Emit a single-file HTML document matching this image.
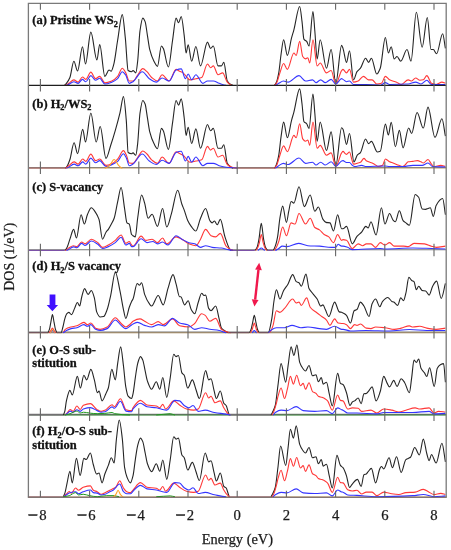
<!DOCTYPE html>
<html><head><meta charset="utf-8"><title>DOS</title>
<style>html,body{margin:0;padding:0;background:#fff;width:451px;height:550px;overflow:hidden}svg{display:block}</style>
</head><body>
<svg width="451" height="550" viewBox="0 0 451 550">
<rect width="451" height="550" fill="#fff"/>
<line x1="28.4" y1="167.50" x2="446.2" y2="167.50" stroke="#777" stroke-width="1.1"/>
<line x1="28.4" y1="249.80" x2="446.2" y2="249.80" stroke="#777" stroke-width="1.1"/>
<line x1="28.4" y1="332.10" x2="446.2" y2="332.10" stroke="#777" stroke-width="1.1"/>
<line x1="28.4" y1="414.40" x2="446.2" y2="414.40" stroke="#777" stroke-width="1.1"/>
<path d="M64.09,85.30 C64.86,85.30 65.64,84.18 66.42,83.33 C67.58,82.05 68.75,80.24 69.91,77.51 C71.23,74.40 72.55,61.21 73.87,61.21 C75.11,61.21 76.35,70.99 77.59,70.99 C79.22,70.99 80.85,46.77 82.48,46.77 C83.49,46.77 84.50,64.00 85.51,64.00 C87.29,64.00 89.08,32.10 90.86,32.10 C92.88,32.10 94.90,60.04 96.92,60.04 C97.85,60.04 98.78,44.44 99.71,44.44 C101.42,44.44 103.13,76.34 104.83,76.34 C106.23,76.34 107.63,70.05 109.02,70.05 C109.72,70.05 110.42,71.22 111.12,71.22 C111.97,71.22 112.83,67.69 113.68,64.70 C115.00,60.08 116.32,47.94 117.64,40.25 C119.19,31.21 120.74,14.64 122.30,14.64 C123.30,14.64 124.31,28.54 125.32,37.92 C126.25,46.58 127.19,69.89 128.12,70.52 C129.28,71.30 130.44,71.68 131.61,71.68 C132.07,71.68 132.54,70.52 133.00,70.52 C133.93,70.52 134.86,72.85 135.79,72.85 C136.41,72.85 137.04,66.38 137.66,61.21 C138.43,54.74 139.21,36.28 139.98,30.94 C140.92,24.53 141.85,18.13 142.78,18.13 C143.55,18.13 144.33,19.76 145.11,21.63 C145.88,23.49 146.66,30.94 147.44,35.60 C148.21,40.25 148.99,46.51 149.76,49.57 C151.16,55.06 152.56,58.55 153.95,61.21 C155.12,63.42 156.28,66.33 157.45,66.33 C158.77,66.33 160.09,46.07 161.41,46.07 C162.03,46.07 162.65,47.33 163.27,48.40 C164.98,51.35 166.68,67.03 168.39,67.03 C169.79,67.03 171.18,49.14 172.58,40.25 C173.75,32.85 174.91,18.13 176.07,18.13 C176.93,18.13 177.78,22.79 178.63,22.79 C179.49,22.79 180.34,16.50 181.20,16.50 C182.20,16.50 183.21,27.87 184.22,35.60 C184.84,40.35 185.46,53.06 186.08,53.06 C186.78,53.06 187.48,44.91 188.18,44.91 C189.34,44.91 190.51,61.21 191.67,61.21 C193.07,61.21 194.47,46.54 195.86,46.54 C197.42,46.54 198.97,65.86 200.52,65.86 C202.85,65.86 205.18,42.12 207.51,42.12 C208.51,42.12 209.52,48.40 210.53,48.40 C211.46,48.40 212.39,46.07 213.33,46.07 C214.88,46.07 216.43,65.86 217.98,65.86 C219.15,65.86 220.31,65.86 221.47,65.86 C222.25,65.86 223.03,62.37 223.80,62.37 C224.97,62.37 226.13,79.04 227.30,81.00 C228.46,82.96 229.62,83.91 230.79,84.49 C231.56,84.88 232.34,85.30 233.12,85.30M274.09,85.30 C274.86,85.30 275.64,83.73 276.42,82.16 C277.19,80.60 277.97,76.99 278.75,72.85 C279.52,68.71 280.30,59.37 281.07,54.22 C281.93,48.56 282.78,39.79 283.63,39.79 C284.88,39.79 286.12,55.39 287.36,55.39 C288.76,55.39 290.15,43.20 291.55,37.92 C292.33,35.00 293.10,32.65 293.88,29.78 C295.82,22.60 297.76,6.49 299.70,6.49 C300.48,6.49 301.25,15.63 302.03,21.63 C302.65,26.43 303.27,38.08 303.89,39.09 C304.82,40.60 305.75,40.31 306.68,41.42 C307.46,42.34 308.24,46.07 309.01,46.07 C310.33,46.07 311.65,11.61 312.97,11.61 C313.59,11.61 314.21,24.05 314.83,30.94 C315.61,39.55 316.39,58.88 317.16,58.88 C318.17,58.88 319.18,39.79 320.19,39.79 C322.28,39.79 324.38,68.19 326.47,68.19 C328.03,68.19 329.58,49.57 331.13,49.57 C332.68,49.57 334.24,83.33 335.79,83.33 C337.73,83.33 339.67,45.37 341.61,45.37 C342.07,45.37 342.54,47.15 343.00,48.40 C344.16,51.55 345.33,62.37 346.49,62.37 C347.50,62.37 348.51,50.73 349.52,50.73 C350.84,50.73 352.16,79.83 353.48,79.83 C354.64,79.83 355.81,73.31 356.97,71.68 C358.13,70.05 359.30,69.70 360.46,68.19 C362.17,65.98 363.88,58.18 365.58,58.18 C366.59,58.18 367.60,62.37 368.61,62.37 C369.54,62.37 370.47,58.18 371.41,58.18 C373.19,58.18 374.98,74.01 376.76,74.01 C377.92,74.01 379.09,71.12 380.25,68.19 C381.96,63.89 383.67,37.46 385.37,37.46 C386.38,37.46 387.39,53.06 388.40,53.06 C389.33,53.06 390.26,46.77 391.20,46.77 C392.20,46.77 393.21,58.88 394.22,58.88 C395.15,58.88 396.08,56.55 397.02,56.55 C398.26,56.55 399.50,61.21 400.74,61.21 C402.84,61.21 404.93,49.57 407.03,49.57 C408.35,49.57 409.67,61.21 410.99,61.21 C412.77,61.21 414.56,12.31 416.34,12.31 C418.28,12.31 420.22,47.24 422.16,47.24 C423.87,47.24 425.58,17.44 427.28,17.44 C428.53,17.44 429.77,49.57 431.01,49.57 C431.79,49.57 432.56,49.57 433.34,49.57 C434.42,49.57 435.51,53.76 436.60,53.76 C438.62,53.76 440.63,33.73 442.65,33.73 C443.57,33.73 444.48,43.51 445.40,48.40" fill="none" stroke="#252525" stroke-width="1.1" stroke-linejoin="round"/>
<path d="M65.25,85.30 C66.42,85.30 67.58,84.04 68.75,83.33 C70.45,82.28 72.16,79.83 73.87,79.83 C75.26,79.83 76.66,82.16 78.06,82.16 C79.53,82.16 81.01,77.04 82.48,77.04 C83.57,77.04 84.66,79.37 85.74,79.37 C87.45,79.37 89.16,72.15 90.86,72.15 C92.42,72.15 93.97,78.67 95.52,78.67 C96.92,78.67 98.31,76.34 99.71,76.34 C101.42,76.34 103.13,82.86 104.83,82.86 C107.16,82.86 109.49,81.94 111.82,81.00 C113.76,80.21 115.70,78.50 117.64,76.34 C119.19,74.61 120.74,68.19 122.30,68.19 C123.46,68.19 124.62,70.87 125.79,72.85 C126.95,74.82 128.12,81.00 129.28,81.00 C130.52,81.00 131.76,81.00 133.00,81.00 C134.55,81.00 136.10,77.13 137.66,75.18 C139.36,73.02 141.07,68.66 142.78,68.66 C144.18,68.66 145.57,70.41 146.97,71.68 C148.52,73.10 150.07,76.23 151.63,77.51 C153.57,79.10 155.51,81.00 157.45,81.00 C159.00,81.00 160.55,74.71 162.10,74.71 C164.43,74.71 166.76,81.00 169.09,81.00 C171.42,81.00 173.75,69.36 176.07,69.36 C177.24,69.36 178.40,70.64 179.57,71.22 C180.73,71.80 181.89,72.14 183.06,72.85 C185.39,74.27 187.71,79.83 190.04,79.83 C191.98,79.83 193.92,79.06 195.86,78.67 C197.80,78.28 199.74,78.22 201.68,77.51 C203.62,76.79 205.56,64.00 207.51,64.00 C208.51,64.00 209.52,67.73 210.53,67.73 C211.46,67.73 212.39,65.86 213.33,65.86 C214.88,65.86 216.43,74.71 217.98,74.71 C219.53,74.71 221.09,72.85 222.64,72.85 C224.19,72.85 225.74,80.60 227.30,82.16 C228.85,83.73 230.40,85.30 231.95,85.30M274.09,85.30 C274.86,85.30 275.64,84.32 276.42,83.33 C277.58,81.84 278.75,76.03 279.91,72.85 C281.15,69.46 282.39,63.54 283.63,63.54 C284.88,63.54 286.12,69.36 287.36,69.36 C289.53,69.36 291.71,53.06 293.88,53.06 C294.66,53.06 295.43,55.39 296.21,55.39 C297.37,55.39 298.54,41.42 299.70,41.42 C300.71,41.42 301.72,55.12 302.73,56.55 C303.66,57.87 304.59,58.88 305.52,58.88 C306.30,58.88 307.07,57.71 307.85,57.71 C308.47,57.71 309.09,63.07 309.71,63.07 C310.80,63.07 311.88,39.79 312.97,39.79 C314.37,39.79 315.76,65.86 317.16,65.86 C318.17,65.86 319.18,63.07 320.19,63.07 C322.28,63.07 324.38,72.85 326.47,72.85 C328.03,72.85 329.58,70.52 331.13,70.52 C332.68,70.52 334.24,84.02 335.79,84.02 C337.73,84.02 339.67,72.70 341.61,70.52 C342.07,70.00 342.54,69.36 343.00,69.36 C344.16,69.36 345.33,72.85 346.49,72.85 C347.50,72.85 348.51,69.36 349.52,69.36 C350.84,69.36 352.16,82.16 353.48,82.16 C355.03,82.16 356.58,81.59 358.13,81.00 C359.92,80.31 361.70,76.34 363.49,76.34 C365.20,76.34 366.90,79.83 368.61,79.83 C369.78,79.83 370.94,79.83 372.10,79.83 C373.66,79.83 375.21,84.02 376.76,84.02 C378.31,84.02 379.86,83.77 381.42,83.33 C382.74,82.95 384.06,76.34 385.37,76.34 C386.77,76.34 388.17,79.14 389.57,79.83 C391.89,80.98 394.22,81.22 396.55,82.16 C398.10,82.79 399.66,84.49 401.21,84.49 C403.54,84.49 405.86,79.83 408.19,79.83 C409.36,79.83 410.52,81.00 411.68,81.00 C413.00,81.00 414.32,77.97 415.64,77.97 C417.04,77.97 418.44,80.30 419.83,80.30 C421.00,80.30 422.16,80.11 423.33,79.83 C424.49,79.55 425.65,75.64 426.82,75.64 C428.37,75.64 429.92,82.65 431.47,83.33 C433.03,84.00 434.58,84.49 436.13,84.49 C438.07,84.49 440.01,82.16 441.95,82.16 C443.10,82.16 444.25,82.94 445.40,83.33" fill="none" stroke="#ff3838" stroke-width="1.1" stroke-linejoin="round"/>
<path d="M66.42,85.30 C68.90,85.30 71.38,81.70 73.87,81.70 C75.26,81.70 76.66,83.33 78.06,83.33 C79.53,83.33 81.01,79.37 82.48,79.37 C83.57,79.37 84.66,81.70 85.74,81.70 C87.45,81.70 89.16,75.64 90.86,75.64 C92.42,75.64 93.97,80.30 95.52,80.30 C96.92,80.30 98.31,78.20 99.71,78.20 C101.42,78.20 103.13,84.02 104.83,84.02 C107.16,84.02 109.49,83.03 111.82,82.16 C113.76,81.44 115.70,80.36 117.64,78.67 C119.19,77.32 120.74,71.68 122.30,71.68 C123.46,71.68 124.62,73.55 125.79,75.18 C126.95,76.81 128.12,83.33 129.28,83.33 C130.52,83.33 131.76,82.42 133.00,81.70 C136.10,79.87 139.21,71.68 142.31,71.68 C144.64,71.68 146.97,77.12 149.30,78.67 C151.63,80.22 153.95,82.16 156.28,82.16 C158.22,82.16 160.16,77.97 162.10,77.97 C164.43,77.97 166.76,81.00 169.09,81.00 C171.42,81.00 173.75,70.94 176.07,70.05 C177.78,69.40 179.49,68.89 181.20,68.89 C182.59,68.89 183.99,78.67 185.39,78.67 C186.32,78.67 187.25,74.01 188.18,74.01 C189.34,74.01 190.51,79.83 191.67,79.83 C193.07,79.83 194.47,74.71 195.86,74.71 C198.19,74.71 200.52,83.33 202.85,83.33 C204.40,83.33 205.95,81.00 207.51,81.00 C209.45,81.00 211.39,81.00 213.33,81.00 C215.27,81.00 217.21,82.68 219.15,83.33 C221.47,84.10 223.80,85.30 226.13,85.30M275.25,85.30 C276.42,85.30 277.58,83.95 278.75,83.33 C280.30,82.50 281.85,81.00 283.40,81.00 C284.95,81.00 286.51,82.16 288.06,82.16 C291.71,82.16 295.35,75.64 299.00,75.64 C301.17,75.64 303.35,81.00 305.52,81.00 C307.85,81.00 310.18,79.83 312.51,79.83 C313.67,79.83 314.83,82.63 316.00,82.63 C317.55,82.63 319.10,79.83 320.65,79.83 C322.21,79.83 323.76,82.63 325.31,82.63 C327.25,82.63 329.19,79.37 331.13,79.37 C332.68,79.37 334.24,84.02 335.79,84.02 C337.73,84.02 339.67,78.67 341.61,78.67 C342.07,78.67 342.54,79.11 343.00,79.37 C344.16,80.02 345.33,81.70 346.49,81.70 C347.50,81.70 348.51,81.00 349.52,81.00 C350.84,81.00 352.16,84.49 353.48,84.49 C357.75,84.49 362.01,84.49 366.28,84.49 C370.94,84.49 375.60,85.30 380.25,85.30 C381.96,85.30 383.67,82.63 385.37,82.63 C386.77,82.63 388.17,84.49 389.57,84.49 C395.77,84.49 401.98,84.34 408.19,84.02 C410.68,83.90 413.16,82.16 415.64,82.16 C417.43,82.16 419.21,84.02 421.00,84.02 C422.94,84.02 424.88,80.30 426.82,80.30 C428.37,80.30 429.92,84.49 431.47,84.49 C436.12,84.49 440.76,84.49 445.40,84.49" fill="none" stroke="#3535ff" stroke-width="1.1" stroke-linejoin="round"/>
<line x1="28.4" y1="168.20" x2="446.2" y2="168.20" stroke="#c8aa80" stroke-width="0.9"/>
<path d="M65.25,168.10 C66.03,168.10 66.80,166.58 67.58,165.33 C68.36,164.07 69.13,161.84 69.91,159.51 C71.31,155.30 72.70,142.74 74.10,142.74 C75.26,142.74 76.43,153.68 77.59,153.68 C79.30,153.68 81.01,129.24 82.71,129.24 C83.65,129.24 84.58,142.04 85.51,142.04 C87.29,142.04 89.08,112.94 90.86,112.94 C92.65,112.94 94.43,142.04 96.22,142.04 C97.54,142.04 98.86,126.44 100.18,126.44 C102.12,126.44 104.06,158.34 106.00,158.34 C107.55,158.34 109.10,150.16 110.65,145.54 C112.21,140.91 113.76,135.81 115.31,130.40 C116.86,125.00 118.42,119.43 119.97,112.94 C121.13,108.07 122.30,96.64 123.46,96.64 C124.39,96.64 125.32,109.15 126.25,119.92 C126.87,127.10 127.50,152.07 128.12,152.52 C129.28,153.36 130.44,153.68 131.61,153.68 C132.07,153.68 132.54,152.87 133.00,152.87 C133.93,152.87 134.86,155.20 135.79,155.20 C136.41,155.20 137.04,148.73 137.66,143.56 C138.43,137.09 139.21,118.63 139.98,113.29 C140.92,106.88 141.85,100.48 142.78,100.48 C143.55,100.48 144.33,102.11 145.11,103.98 C145.88,105.84 146.66,113.29 147.44,117.95 C148.21,122.60 148.99,128.86 149.76,131.92 C151.16,137.41 152.56,140.90 153.95,143.56 C155.12,145.77 156.28,148.68 157.45,148.68 C158.77,148.68 160.09,128.42 161.41,128.42 C162.03,128.42 162.65,129.68 163.27,130.75 C164.98,133.70 166.68,149.38 168.39,149.38 C169.79,149.38 171.18,131.49 172.58,122.60 C173.75,115.20 174.91,100.48 176.07,100.48 C176.93,100.48 177.78,105.14 178.63,105.14 C179.49,105.14 180.34,98.85 181.20,98.85 C182.20,98.85 183.21,110.22 184.22,117.95 C184.84,122.70 185.46,135.41 186.08,135.41 C186.78,135.41 187.48,127.26 188.18,127.26 C189.34,127.26 190.51,143.56 191.67,143.56 C193.07,143.56 194.47,128.89 195.86,128.89 C197.42,128.89 198.97,148.21 200.52,148.21 C202.85,148.21 205.18,124.46 207.51,124.46 C208.51,124.46 209.52,130.75 210.53,130.75 C211.46,130.75 212.39,128.42 213.33,128.42 C214.88,128.42 216.43,148.21 217.98,148.21 C219.15,148.21 220.31,148.21 221.47,148.21 C222.25,148.21 223.03,144.72 223.80,144.72 C224.97,144.72 226.13,161.39 227.30,163.35 C228.46,165.31 229.62,166.04 230.79,166.84 C231.56,167.37 232.34,168.10 233.12,168.10M274.09,168.10 C274.86,168.10 275.64,166.24 276.42,164.51 C277.19,162.78 277.97,159.34 278.75,155.20 C279.52,151.06 280.30,141.72 281.07,136.57 C281.93,130.91 282.78,122.14 283.63,122.14 C284.88,122.14 286.12,137.74 287.36,137.74 C288.76,137.74 290.15,125.54 291.55,120.27 C292.33,117.35 293.10,114.99 293.88,112.12 C295.82,104.95 297.76,88.84 299.70,88.84 C300.48,88.84 301.25,97.98 302.03,103.98 C302.65,108.77 303.27,120.43 303.89,121.44 C304.82,122.95 305.75,122.66 306.68,123.77 C307.46,124.69 308.24,128.42 309.01,128.42 C310.33,128.42 311.65,93.96 312.97,93.96 C313.59,93.96 314.21,106.40 314.83,113.29 C315.61,121.90 316.39,141.23 317.16,141.23 C318.17,141.23 319.18,122.14 320.19,122.14 C322.28,122.14 324.38,150.54 326.47,150.54 C328.03,150.54 329.58,131.92 331.13,131.92 C332.68,131.92 334.24,165.68 335.79,165.68 C337.73,165.68 339.67,127.72 341.61,127.72 C342.07,127.72 342.54,128.49 343.00,129.24 C344.16,131.10 345.33,144.37 346.49,144.37 C347.50,144.37 348.51,133.43 349.52,133.43 C350.99,133.43 352.47,161.83 353.94,161.83 C355.11,161.83 356.27,156.13 357.44,154.85 C358.44,153.74 359.45,153.67 360.46,152.52 C362.17,150.58 363.88,139.02 365.58,139.02 C366.59,139.02 367.60,143.67 368.61,143.67 C369.54,143.67 370.47,141.34 371.41,141.34 C373.42,141.34 375.44,152.05 377.46,152.05 C378.39,152.05 379.32,151.76 380.25,151.36 C381.96,150.61 383.67,124.12 385.37,124.12 C386.38,124.12 387.39,135.06 388.40,135.06 C389.33,135.06 390.26,122.25 391.20,122.25 C392.59,122.25 393.99,146.70 395.39,146.70 C396.71,146.70 398.03,130.40 399.34,130.40 C400.59,130.40 401.83,147.86 403.07,147.86 C404.93,147.86 406.80,128.07 408.66,128.07 C409.67,128.07 410.68,133.43 411.68,133.43 C413.47,133.43 415.25,112.47 417.04,112.47 C419.14,112.47 421.23,128.07 423.33,128.07 C424.88,128.07 426.43,107.12 427.98,107.12 C430.31,107.12 432.64,137.39 434.97,137.39 C437.30,137.39 439.62,118.76 441.95,118.76 C443.10,118.76 444.25,130.40 445.40,136.22" fill="none" stroke="#252525" stroke-width="1.1" stroke-linejoin="round"/>
<path d="M65.25,168.10 C66.42,168.10 67.58,166.60 68.75,165.79 C70.53,164.55 72.32,161.83 74.10,161.83 C75.42,161.83 76.74,164.16 78.06,164.16 C79.61,164.16 81.16,159.04 82.71,159.04 C83.72,159.04 84.73,161.37 85.74,161.37 C87.45,161.37 89.16,154.15 90.86,154.15 C92.42,154.15 93.97,160.67 95.52,160.67 C96.92,160.67 98.31,159.04 99.71,159.04 C101.81,159.04 103.90,165.33 106.00,165.33 C107.94,165.33 109.88,164.50 111.82,163.70 C113.76,162.89 115.70,161.04 117.64,159.04 C119.58,157.04 121.52,150.66 123.46,150.66 C124.39,150.66 125.32,153.06 126.25,154.85 C127.26,156.79 128.27,162.81 129.28,163.00 C130.52,163.23 131.76,163.35 133.00,163.35 C134.55,163.35 136.10,159.48 137.66,157.53 C139.36,155.37 141.07,151.01 142.78,151.01 C144.18,151.01 145.57,152.76 146.97,154.03 C148.52,155.45 150.07,158.58 151.63,159.85 C153.57,161.45 155.51,163.35 157.45,163.35 C159.00,163.35 160.55,157.06 162.10,157.06 C164.43,157.06 166.76,163.35 169.09,163.35 C171.42,163.35 173.75,151.71 176.07,151.71 C177.24,151.71 178.40,152.99 179.57,153.57 C180.73,154.15 181.89,154.49 183.06,155.20 C185.39,156.62 187.71,162.18 190.04,162.18 C191.98,162.18 193.92,161.41 195.86,161.02 C197.80,160.63 199.74,160.57 201.68,159.85 C203.62,159.14 205.56,146.35 207.51,146.35 C208.51,146.35 209.52,150.08 210.53,150.08 C211.46,150.08 212.39,148.21 213.33,148.21 C214.88,148.21 216.43,157.06 217.98,157.06 C219.53,157.06 221.09,155.20 222.64,155.20 C224.19,155.20 225.74,163.08 227.30,164.51 C228.85,165.94 230.40,166.96 231.95,167.31 C233.97,167.75 235.98,168.10 238.00,168.10M274.09,168.10 C274.86,168.10 275.64,166.84 276.42,165.68 C277.58,163.93 278.75,158.38 279.91,155.20 C281.15,151.81 282.39,145.88 283.63,145.88 C284.88,145.88 286.12,151.71 287.36,151.71 C289.53,151.71 291.71,135.41 293.88,135.41 C294.66,135.41 295.43,137.74 296.21,137.74 C297.37,137.74 298.54,123.77 299.70,123.77 C300.71,123.77 301.72,137.47 302.73,138.90 C303.66,140.22 304.59,141.23 305.52,141.23 C306.30,141.23 307.07,140.06 307.85,140.06 C308.47,140.06 309.09,145.42 309.71,145.42 C310.80,145.42 311.88,122.14 312.97,122.14 C314.37,122.14 315.76,148.21 317.16,148.21 C318.17,148.21 319.18,145.42 320.19,145.42 C322.28,145.42 324.38,155.20 326.47,155.20 C328.03,155.20 329.58,152.87 331.13,152.87 C332.68,152.87 334.24,166.37 335.79,166.37 C337.73,166.37 339.67,155.55 341.61,152.87 C342.07,152.23 342.54,151.36 343.00,151.36 C343.78,151.36 344.55,153.12 345.33,153.68 C345.72,153.97 346.10,154.38 346.49,154.38 C347.50,154.38 348.51,152.05 349.52,152.05 C350.30,152.05 351.07,157.17 351.85,159.51 C352.39,161.14 352.93,164.16 353.48,164.16 C354.25,164.16 355.03,163.88 355.81,163.70 C356.58,163.51 357.36,163.23 358.13,163.00 C358.91,162.76 359.69,162.65 360.46,162.30 C361.63,161.77 362.79,158.34 363.95,158.34 C364.73,158.34 365.51,160.15 366.28,160.67 C367.06,161.19 367.84,161.52 368.61,161.83 C369.78,162.31 370.94,162.53 372.10,163.00 C372.88,163.31 373.66,163.72 374.43,164.16 C375.60,164.82 376.76,166.49 377.92,166.49 C379.48,166.49 381.03,166.07 382.58,165.33 C383.51,164.88 384.44,159.04 385.37,159.04 C386.00,159.04 386.62,159.59 387.24,159.97 C388.01,160.44 388.79,161.46 389.57,161.83 C390.73,162.40 391.89,162.58 393.06,163.00 C395.00,163.70 396.94,164.63 398.88,165.33 C400.04,165.75 401.21,166.49 402.37,166.49 C403.15,166.49 403.92,165.83 404.70,165.33 C405.86,164.57 407.03,162.05 408.19,161.83 C409.74,161.54 411.30,161.55 412.85,161.37 C414.40,161.18 415.95,160.67 417.51,160.67 C418.67,160.67 419.83,161.36 421.00,161.83 C421.77,162.15 422.55,163.00 423.33,163.00 C424.88,163.00 426.43,159.51 427.98,159.51 C429.15,159.51 430.31,162.84 431.47,164.16 C432.25,165.04 433.03,166.49 433.80,166.49 C436.13,166.49 438.46,165.33 440.79,165.33 C442.33,165.33 443.86,166.10 445.40,166.49" fill="none" stroke="#ff3838" stroke-width="1.1" stroke-linejoin="round"/>
<path d="M66.42,168.10 C68.98,168.10 71.54,164.16 74.10,164.16 C75.42,164.16 76.74,165.79 78.06,165.79 C79.61,165.79 81.16,161.83 82.71,161.83 C83.72,161.83 84.73,164.16 85.74,164.16 C87.45,164.16 89.16,158.11 90.86,158.11 C92.42,158.11 93.97,162.76 95.52,162.76 C96.92,162.76 98.31,160.67 99.71,160.67 C101.81,160.67 103.90,166.49 106.00,166.49 C107.94,166.49 109.88,165.42 111.82,164.63 C113.76,163.84 115.70,162.89 117.64,161.37 C119.58,159.84 121.52,153.68 123.46,153.68 C124.39,153.68 125.32,155.92 126.25,157.64 C127.26,159.51 128.27,165.79 129.28,165.79 C130.52,165.79 131.76,164.81 133.00,164.05 C136.10,162.12 139.21,154.03 142.31,154.03 C144.64,154.03 146.97,159.47 149.30,161.02 C151.63,162.57 153.95,164.51 156.28,164.51 C158.22,164.51 160.16,160.32 162.10,160.32 C164.43,160.32 166.76,163.35 169.09,163.35 C171.42,163.35 173.75,153.29 176.07,152.40 C177.78,151.75 179.49,151.24 181.20,151.24 C182.59,151.24 183.99,161.02 185.39,161.02 C186.32,161.02 187.25,156.36 188.18,156.36 C189.34,156.36 190.51,162.18 191.67,162.18 C193.07,162.18 194.47,157.06 195.86,157.06 C198.19,157.06 200.52,165.68 202.85,165.68 C204.40,165.68 205.95,163.35 207.51,163.35 C209.45,163.35 211.39,163.35 213.33,163.35 C215.27,163.35 217.21,165.10 219.15,165.68 C221.47,166.37 223.80,167.05 226.13,167.31 C230.09,167.74 234.04,168.10 238.00,168.10M275.25,168.10 C276.42,168.10 277.58,166.36 278.75,165.68 C280.30,164.77 281.85,163.35 283.40,163.35 C284.95,163.35 286.51,164.51 288.06,164.51 C291.71,164.51 295.35,157.99 299.00,157.99 C301.17,157.99 303.35,163.35 305.52,163.35 C307.85,163.35 310.18,162.18 312.51,162.18 C313.67,162.18 314.83,164.98 316.00,164.98 C317.55,164.98 319.10,162.18 320.65,162.18 C322.21,162.18 323.76,164.98 325.31,164.98 C327.25,164.98 329.19,161.72 331.13,161.72 C332.68,161.72 334.24,166.37 335.79,166.37 C337.73,166.37 339.67,161.70 341.61,161.02 C342.07,160.85 342.54,160.67 343.00,160.67 C344.16,160.67 345.33,162.53 346.49,162.53 C347.50,162.53 348.51,162.53 349.52,162.53 C350.45,162.53 351.38,164.71 352.31,165.33 C353.09,165.84 353.87,166.49 354.64,166.49 C356.97,166.49 359.30,165.33 361.63,165.33 C363.18,165.33 364.73,166.49 366.28,166.49 C372.49,166.49 378.70,166.02 384.91,166.02 C386.46,166.02 388.01,166.49 389.57,166.49 C394.22,166.49 398.88,166.49 403.54,166.49 C406.64,166.49 409.74,165.33 412.85,165.33 C415.95,165.33 419.06,165.33 422.16,165.33 C424.10,165.33 426.04,163.00 427.98,163.00 C429.53,163.00 431.09,166.36 432.64,166.49 C436.89,166.83 441.15,166.80 445.40,166.96" fill="none" stroke="#3535ff" stroke-width="1.1" stroke-linejoin="round"/>
<path d="M104.83,168.10 C106.39,168.10 107.94,166.75 109.49,165.56 C111.04,164.37 112.59,159.51 114.15,159.51 C115.70,159.51 117.25,164.13 118.80,165.56 C119.97,166.63 121.13,168.10 122.30,168.10" fill="none" stroke="#ffa22a" stroke-width="1.1" stroke-linejoin="round"/>
<line x1="28.60" y1="168.10" x2="65.25" y2="168.10" stroke="#a0606a" stroke-width="1.0"/>
<line x1="233.12" y1="168.10" x2="274.09" y2="168.10" stroke="#a0606a" stroke-width="1.0"/>
<path d="M64.79,250.40 C65.56,250.40 66.34,248.72 67.12,247.33 C68.05,245.65 68.98,241.76 69.91,239.18 C71.15,235.74 72.39,229.40 73.63,229.40 C74.57,229.40 75.50,238.01 76.43,238.01 C77.98,238.01 79.53,214.73 81.08,214.73 C82.17,214.73 83.26,224.04 84.34,224.04 C85.35,224.04 86.36,217.02 87.37,214.73 C88.69,211.73 90.01,207.75 91.33,207.75 C92.73,207.75 94.12,210.39 95.52,212.40 C96.68,214.08 97.85,215.94 99.01,219.39 C100.18,222.83 101.34,239.18 102.51,239.18 C103.67,239.18 104.83,233.91 106.00,232.19 C106.77,231.05 107.55,230.50 108.33,229.40 C109.33,227.97 110.34,225.98 111.35,224.04 C112.28,222.26 113.22,220.87 114.15,218.22 C115.31,214.92 116.47,207.03 117.64,201.92 C118.80,196.82 119.97,187.49 121.13,187.49 C122.30,187.49 123.46,201.85 124.62,208.91 C125.40,213.61 126.18,222.16 126.95,222.88 C127.73,223.60 128.50,223.34 129.28,224.04 C130.06,224.74 130.83,233.48 131.61,234.52 C132.07,235.14 132.54,235.39 133.00,235.68 C133.78,236.18 134.55,236.85 135.33,236.85 C136.10,236.85 136.88,223.55 137.66,218.22 C138.98,209.16 140.30,194.94 141.61,194.94 C142.62,194.94 143.63,199.76 144.64,203.09 C145.81,206.93 146.97,218.22 148.13,218.22 C149.45,218.22 150.77,214.26 152.09,214.26 C153.88,214.26 155.66,226.37 157.45,226.37 C159.15,226.37 160.86,208.44 162.57,208.44 C163.97,208.44 165.36,227.07 166.76,227.07 C168.31,227.07 169.86,218.58 171.42,213.57 C173.51,206.79 175.61,190.28 177.70,190.28 C179.10,190.28 180.50,200.31 181.89,204.25 C182.67,206.44 183.45,207.97 184.22,210.07 C185.39,213.23 186.55,218.06 187.71,220.55 C188.88,223.05 190.04,224.90 191.21,226.37 C192.76,228.33 194.31,231.03 195.86,231.03 C197.42,231.03 198.97,221.73 200.52,218.22 C202.23,214.36 203.94,208.44 205.64,208.44 C207.04,208.44 208.44,218.57 209.83,220.55 C210.61,221.65 211.39,222.88 212.16,222.88 C212.94,222.88 213.71,221.02 214.49,221.02 C215.42,221.02 216.35,224.74 217.28,224.74 C218.29,224.74 219.30,219.39 220.31,219.39 C221.86,219.39 223.42,232.08 224.97,236.85 C226.52,241.62 228.07,246.52 229.62,248.96 C230.01,249.56 230.40,250.40 230.79,250.40M254.76,250.40 C255.54,250.40 256.32,248.93 257.09,247.33 C257.71,246.04 258.33,242.46 258.95,239.18 C259.73,235.08 260.51,223.34 261.28,223.34 C262.06,223.34 262.84,235.08 263.61,239.18 C264.23,242.46 264.85,246.04 265.47,247.33 C266.25,248.93 267.03,250.40 267.80,250.40M272.92,250.40 C273.70,250.40 274.48,248.10 275.25,246.16 C276.03,244.22 276.80,240.99 277.58,236.85 C278.36,232.71 279.13,222.62 279.91,218.22 C280.84,212.94 281.77,206.12 282.70,206.12 C283.94,206.12 285.19,222.41 286.43,222.41 C287.20,222.41 287.98,214.71 288.76,211.24 C289.53,207.76 290.31,201.46 291.08,201.46 C292.02,201.46 292.95,203.09 293.88,203.09 C295.59,203.09 297.29,186.79 299.00,186.79 C300.79,186.79 302.57,206.58 304.36,206.58 C306.30,206.58 308.24,194.94 310.18,194.94 C311.73,194.94 313.28,211.24 314.83,211.24 C316.00,211.24 317.16,207.05 318.33,207.05 C319.88,207.05 321.43,217.20 322.98,219.39 C323.99,220.81 325.00,222.19 326.01,222.41 C327.33,222.70 328.65,222.58 329.97,222.88 C331.13,223.14 332.30,231.03 333.46,231.03 C334.86,231.03 336.25,214.73 337.65,214.73 C338.97,214.73 340.29,228.70 341.61,228.70 C342.07,228.70 342.54,228.70 343.00,228.70 C344.16,228.70 345.33,226.37 346.49,226.37 C348.43,226.37 350.37,243.83 352.31,243.83 C353.87,243.83 355.42,238.17 356.97,236.38 C358.52,234.59 360.07,233.89 361.63,232.19 C363.02,230.66 364.42,226.37 365.82,226.37 C366.59,226.37 367.37,228.00 368.15,228.00 C369.08,228.00 370.01,221.71 370.94,221.71 C372.65,221.71 374.35,234.99 376.06,234.99 C377.85,234.99 379.63,207.75 381.42,207.75 C382.58,207.75 383.75,224.04 384.91,224.04 C386.46,224.04 388.01,213.57 389.57,213.57 C390.73,213.57 391.89,218.93 393.06,220.08 C393.83,220.85 394.61,221.71 395.39,221.71 C396.71,221.71 398.03,210.77 399.34,210.77 C400.59,210.77 401.83,219.02 403.07,220.55 C404.00,221.70 404.93,222.19 405.86,222.88 C407.03,223.74 408.19,225.21 409.36,225.21 C411.30,225.21 413.24,194.47 415.18,194.47 C416.34,194.47 417.51,195.77 418.67,197.27 C419.83,198.77 421.00,208.61 422.16,208.91 C423.33,209.21 424.49,209.37 425.65,209.37 C426.43,209.37 427.21,208.71 427.98,208.44 C428.76,208.18 429.53,207.75 430.31,207.75 C431.32,207.75 432.33,216.36 433.34,216.36 C434.27,216.36 435.20,207.11 436.13,205.42 C438.30,201.46 440.48,198.43 442.65,198.43 C443.57,198.43 444.48,209.30 445.40,214.73" fill="none" stroke="#252525" stroke-width="1.1" stroke-linejoin="round"/>
<path d="M65.25,250.40 C66.42,250.40 67.58,248.70 68.75,248.02 C70.30,247.12 71.85,245.70 73.40,245.70 C74.57,245.70 75.73,246.63 76.89,246.63 C78.45,246.63 80.00,241.97 81.55,241.97 C82.71,241.97 83.88,243.83 85.04,243.83 C87.14,243.83 89.23,239.18 91.33,239.18 C93.50,239.18 95.68,241.13 97.85,242.67 C99.40,243.77 100.95,247.33 102.51,247.33 C104.45,247.33 106.39,245.96 108.33,245.00 C110.65,243.84 112.98,242.15 115.31,240.34 C117.25,238.83 119.19,234.99 121.13,234.99 C122.68,234.99 124.24,243.37 125.79,243.37 C126.95,243.37 128.12,241.51 129.28,241.51 C130.06,241.51 130.83,244.18 131.61,245.00 C132.07,245.48 132.54,246.16 133.00,246.16 C135.72,246.16 138.43,236.15 141.15,236.15 C142.70,236.15 144.25,240.34 145.81,240.34 C147.90,240.34 150.00,239.18 152.09,239.18 C153.88,239.18 155.66,242.67 157.45,242.67 C159.15,242.67 160.86,238.01 162.57,238.01 C163.97,238.01 165.36,243.83 166.76,243.83 C169.86,243.83 172.97,236.85 176.07,236.85 C178.01,236.85 179.95,238.21 181.89,239.18 C184.22,240.33 186.55,242.95 188.88,243.83 C191.21,244.72 193.54,245.70 195.86,245.70 C197.42,245.70 198.97,241.68 200.52,239.18 C202.23,236.43 203.94,229.40 205.64,229.40 C207.43,229.40 209.21,234.96 211.00,235.68 C212.55,236.31 214.10,236.85 215.65,236.85 C217.21,236.85 218.76,233.36 220.31,233.36 C222.25,233.36 224.19,243.97 226.13,246.16 C227.30,247.48 228.46,248.32 229.62,248.96 C230.79,249.59 231.95,250.40 233.12,250.40M255.69,250.40 C256.39,250.40 257.09,248.88 257.79,247.56 C258.33,246.53 258.88,244.60 259.42,242.67 C260.04,240.47 260.66,234.52 261.28,234.52 C261.90,234.52 262.52,240.47 263.15,242.67 C263.69,244.60 264.23,246.53 264.78,247.56 C265.47,248.88 266.17,250.40 266.87,250.40M274.09,250.40 C274.86,250.40 275.64,248.67 276.42,247.33 C277.19,245.98 277.97,243.77 278.75,241.51 C280.06,237.65 281.38,227.07 282.70,227.07 C283.94,227.07 285.19,235.68 286.43,235.68 C287.98,235.68 289.53,222.88 291.08,222.88 C292.40,222.88 293.72,224.04 295.04,224.04 C296.36,224.04 297.68,213.57 299.00,213.57 C301.17,213.57 303.35,224.04 305.52,224.04 C307.07,224.04 308.62,218.22 310.18,218.22 C311.73,218.22 313.28,226.29 314.83,227.54 C316.39,228.78 317.94,228.83 319.49,229.86 C321.04,230.90 322.59,233.49 324.15,234.52 C325.70,235.56 327.25,235.74 328.80,236.85 C330.36,237.96 331.91,242.67 333.46,242.67 C334.86,242.67 336.25,234.52 337.65,234.52 C338.97,234.52 340.29,240.34 341.61,240.34 C342.07,240.34 342.54,239.64 343.00,239.64 C344.16,239.64 345.33,239.96 346.49,240.34 C348.43,240.98 350.37,248.49 352.31,248.49 C354.25,248.49 356.19,243.83 358.13,243.83 C359.69,243.83 361.24,245.70 362.79,245.70 C363.95,245.70 365.12,243.83 366.28,243.83 C367.84,243.83 369.39,243.83 370.94,243.83 C372.49,243.83 374.04,247.33 375.60,247.33 C377.15,247.33 378.70,242.67 380.25,242.67 C381.80,242.67 383.36,245.00 384.91,245.00 C386.46,245.00 388.01,242.67 389.57,242.67 C391.12,242.67 392.67,246.16 394.22,246.16 C397.33,246.16 400.43,246.16 403.54,246.16 C405.09,246.16 406.64,246.63 408.19,246.63 C410.13,246.63 412.07,243.37 414.01,243.37 C417.51,243.37 421.00,243.54 424.49,243.83 C426.82,244.03 429.15,245.50 431.47,246.16 C433.03,246.60 434.58,247.33 436.13,247.33 C439.22,247.33 442.31,246.55 445.40,246.16" fill="none" stroke="#ff3838" stroke-width="1.1" stroke-linejoin="round"/>
<path d="M66.42,250.40 C68.75,250.40 71.07,246.86 73.40,246.86 C74.57,246.86 75.73,247.79 76.89,247.79 C78.45,247.79 80.00,243.37 81.55,243.37 C82.71,243.37 83.88,245.46 85.04,245.46 C87.14,245.46 89.23,241.04 91.33,241.04 C93.50,241.04 95.68,242.88 97.85,244.30 C99.40,245.31 100.95,248.49 102.51,248.49 C104.45,248.49 106.39,247.41 108.33,246.63 C110.65,245.68 112.98,244.31 115.31,242.67 C117.25,241.30 119.19,237.31 121.13,237.31 C122.68,237.31 124.24,245.00 125.79,245.00 C126.95,245.00 128.12,243.37 129.28,243.37 C130.06,243.37 130.83,246.63 131.61,246.63 C132.07,246.63 132.54,246.63 133.00,246.63 C135.72,246.63 138.43,238.71 141.15,238.71 C143.09,238.71 145.03,242.67 146.97,242.67 C148.91,242.67 150.85,241.51 152.79,241.51 C154.34,241.51 155.89,243.83 157.45,243.83 C159.15,243.83 160.86,241.97 162.57,241.97 C164.35,241.97 166.14,245.00 167.92,245.00 C170.64,245.00 173.36,235.68 176.07,235.68 C178.01,235.68 179.95,238.12 181.89,239.18 C184.22,240.45 186.55,242.01 188.88,242.67 C190.82,243.22 192.76,243.25 194.70,243.83 C196.64,244.42 198.58,247.33 200.52,247.33 C202.23,247.33 203.94,245.70 205.64,245.70 C207.82,245.70 209.99,247.07 212.16,247.33 C215.27,247.70 218.37,247.66 221.47,248.02 C223.80,248.30 226.13,249.22 228.46,249.65 C230.01,249.95 231.56,250.40 233.12,250.40M257.79,250.40 C258.95,250.40 260.12,248.02 261.28,248.02 C262.45,248.02 263.61,250.40 264.78,250.40M275.25,250.40 C276.42,250.40 277.58,249.19 278.75,248.49 C279.91,247.79 281.07,246.16 282.24,246.16 C283.79,246.16 285.34,246.63 286.89,246.63 C290.77,246.63 294.66,243.37 298.54,243.37 C301.64,243.37 304.74,245.48 307.85,245.70 C311.73,245.97 315.61,245.94 319.49,246.16 C323.37,246.38 327.25,247.33 331.13,247.33 C332.68,247.33 334.24,247.33 335.79,247.33 C336.56,247.33 337.34,244.30 338.12,244.30 C339.28,244.30 340.44,246.16 341.61,246.16 C342.07,246.16 342.54,246.16 343.00,246.16 C344.55,246.16 346.10,246.81 347.66,247.33 C349.21,247.84 350.76,249.65 352.31,249.65 C361.63,249.65 370.94,248.49 380.25,248.49 C381.80,248.49 383.36,248.96 384.91,248.96 C394.22,248.96 403.54,248.02 412.85,248.02 C419.06,248.02 425.27,248.31 431.47,248.49 C436.12,248.62 440.76,248.80 445.40,248.96" fill="none" stroke="#3535ff" stroke-width="1.1" stroke-linejoin="round"/>
<line x1="28.60" y1="250.40" x2="64.79" y2="250.40" stroke="#7040a0" stroke-width="1.0"/>
<line x1="230.79" y1="250.40" x2="254.76" y2="250.40" stroke="#7040a0" stroke-width="1.0"/>
<line x1="267.80" y1="250.40" x2="272.92" y2="250.40" stroke="#7040a0" stroke-width="1.0"/>
<line x1="28.4" y1="332.80" x2="446.2" y2="332.80" stroke="#a08458" stroke-width="0.9"/>
<path d="M47.56,332.70 C48.18,332.70 48.80,331.01 49.42,329.33 C49.89,328.06 50.35,324.60 50.82,322.34 C51.36,319.70 51.90,314.66 52.45,314.66 C52.99,314.66 53.53,319.70 54.08,322.34 C54.54,324.60 55.01,328.06 55.47,329.33 C56.09,331.01 56.72,332.70 57.34,332.70M61.06,332.70 C61.68,332.70 62.30,329.23 62.92,327.00 C63.55,324.76 64.17,320.81 64.79,318.85 C65.49,316.65 66.18,314.52 66.88,313.73 C67.50,313.02 68.12,312.33 68.75,312.33 C69.68,312.33 70.61,314.66 71.54,314.66 C72.55,314.66 73.56,310.47 74.57,308.37 C75.50,306.43 76.43,302.55 77.36,302.55 C78.14,302.55 78.91,306.04 79.69,306.04 C80.39,306.04 81.08,299.21 81.78,296.73 C82.71,293.42 83.65,288.58 84.58,288.58 C85.74,288.58 86.91,294.40 88.07,294.40 C89.16,294.40 90.24,290.44 91.33,290.44 C92.34,290.44 93.35,294.31 94.36,297.89 C95.13,300.65 95.91,309.96 96.68,311.86 C97.85,314.72 99.01,316.99 100.18,316.99 C101.34,316.99 102.51,316.81 103.67,316.52 C104.83,316.23 106.00,312.64 107.16,309.54 C108.33,306.43 109.49,300.71 110.65,295.57 C112.21,288.70 113.76,272.28 115.31,272.28 C116.86,272.28 118.42,283.76 119.97,290.91 C121.13,296.27 122.30,304.43 123.46,309.54 C124.24,312.94 125.01,318.38 125.79,318.38 C126.95,318.38 128.12,310.45 129.28,307.21 C130.06,305.05 130.83,302.92 131.61,301.39 C132.07,300.47 132.54,300.07 133.00,299.06 C134.40,296.03 135.79,283.46 137.19,283.46 C137.97,283.46 138.74,285.09 139.52,285.09 C140.22,285.09 140.92,282.76 141.61,282.76 C142.62,282.76 143.63,291.69 144.64,294.40 C146.19,298.58 147.75,301.72 149.30,303.71 C150.07,304.71 150.85,306.04 151.63,306.04 C153.80,306.04 155.97,295.57 158.15,295.57 C159.85,295.57 161.56,304.88 163.27,304.88 C164.82,304.88 166.37,293.35 167.92,288.58 C169.63,283.34 171.34,274.61 173.05,274.61 C174.06,274.61 175.06,280.56 176.07,283.92 C177.24,287.81 178.40,296.73 179.57,296.73 C179.95,296.73 180.34,296.73 180.73,296.73 C182.05,296.73 183.37,304.88 184.69,304.88 C185.85,304.88 187.02,300.69 188.18,300.69 C189.19,300.69 190.20,307.80 191.21,309.54 C192.37,311.54 193.54,313.73 194.70,313.73 C195.86,313.73 197.03,305.94 198.19,302.55 C199.36,299.16 200.52,293.24 201.68,293.24 C202.46,293.24 203.24,295.57 204.01,295.57 C204.56,295.57 205.10,295.10 205.64,295.10 C206.65,295.10 207.66,306.77 208.67,308.37 C209.45,309.60 210.22,310.70 211.00,310.70 C212.55,310.70 214.10,306.04 215.65,306.04 C216.82,306.04 217.98,314.38 219.15,318.85 C219.92,321.83 220.70,327.08 221.47,328.16 C222.64,329.79 223.80,330.24 224.97,330.96 C226.13,331.67 227.30,332.70 228.46,332.70M249.18,332.70 C249.80,332.70 250.42,331.09 251.04,329.56 C251.58,328.22 252.12,324.71 252.67,322.34 C253.21,319.97 253.75,315.36 254.30,315.36 C254.84,315.36 255.38,319.97 255.93,322.34 C256.47,324.71 257.01,328.22 257.56,329.56 C258.18,331.09 258.80,332.70 259.42,332.70M268.27,332.70 C269.43,332.70 270.60,325.16 271.76,318.85 C272.54,314.64 273.31,304.69 274.09,300.22 C274.86,295.75 275.64,289.75 276.42,289.75 C277.58,289.75 278.75,299.06 279.91,299.06 C281.07,299.06 282.24,293.06 283.40,290.91 C284.95,288.05 286.51,286.59 288.06,283.92 C289.61,281.26 291.16,274.61 292.71,274.61 C293.88,274.61 295.04,280.81 296.21,281.60 C297.14,282.22 298.07,282.14 299.00,282.76 C299.78,283.28 300.55,286.25 301.33,286.25 C302.88,286.25 304.43,274.15 305.99,274.15 C306.99,274.15 308.00,286.45 309.01,288.58 C310.18,291.04 311.34,291.73 312.51,293.24 C314.06,295.24 315.61,296.64 317.16,299.06 C318.33,300.87 319.49,306.04 320.65,306.04 C321.43,306.04 322.21,304.88 322.98,304.88 C323.76,304.88 324.53,307.98 325.31,309.54 C326.47,311.86 327.64,316.52 328.80,316.52 C330.74,316.52 332.68,302.08 334.62,302.08 C336.18,302.08 337.73,311.34 339.28,311.86 C340.06,312.12 340.83,312.10 341.61,312.33 C342.07,312.47 342.54,312.77 343.00,313.03 C344.16,313.68 345.33,314.21 346.49,315.36 C347.81,316.65 349.13,323.04 350.45,323.04 C351.69,323.04 352.93,311.59 354.18,310.70 C355.11,310.03 356.04,310.17 356.97,309.54 C358.13,308.74 359.30,302.08 360.46,302.08 C361.63,302.08 362.79,304.38 363.95,306.04 C365.66,308.49 367.37,316.52 369.08,316.52 C370.09,316.52 371.09,305.79 372.10,303.71 C373.27,301.32 374.43,299.06 375.60,299.06 C376.99,299.06 378.39,306.74 379.79,306.74 C380.72,306.74 381.65,302.46 382.58,301.39 C384.29,299.42 386.00,297.43 387.70,297.43 C389.10,297.43 390.50,300.68 391.89,301.39 C392.51,301.70 393.14,301.78 393.76,302.08 C395.08,302.74 396.40,305.34 397.71,305.34 C398.72,305.34 399.73,297.89 400.74,297.89 C401.67,297.89 402.60,300.69 403.54,300.69 C404.31,300.69 405.09,296.29 405.86,293.24 C406.87,289.27 407.88,277.41 408.89,277.41 C409.82,277.41 410.75,279.80 411.68,280.43 C412.46,280.96 413.24,280.92 414.01,281.60 C414.79,282.28 415.56,289.75 416.34,289.75 C417.12,289.75 417.89,286.25 418.67,286.25 C419.83,286.25 421.00,290.16 422.16,290.44 C423.33,290.72 424.49,290.63 425.65,290.91 C426.82,291.19 427.98,295.10 429.15,295.10 C430.31,295.10 431.47,288.26 432.64,286.25 C433.96,283.98 435.28,281.13 436.60,281.13 C438.15,281.13 439.70,298.36 441.25,298.36 C442.64,298.36 444.02,288.43 445.40,283.46" fill="none" stroke="#252525" stroke-width="1.1" stroke-linejoin="round"/>
<path d="M48.95,332.70 C49.58,332.70 50.20,331.30 50.82,330.49 C51.36,329.78 51.90,328.16 52.45,328.16 C52.99,328.16 53.53,329.78 54.08,330.49 C54.70,331.30 55.32,332.70 55.94,332.70M62.92,332.70 C63.70,332.70 64.48,329.86 65.25,329.33 C67.19,328.00 69.13,327.52 71.07,327.00 C73.01,326.48 74.95,326.38 76.89,325.83 C79.22,325.18 81.55,322.34 83.88,322.34 C85.04,322.34 86.21,324.67 87.37,324.67 C88.54,324.67 89.70,323.04 90.86,323.04 C92.42,323.04 93.97,327.53 95.52,328.16 C97.07,328.79 98.62,329.33 100.18,329.33 C102.51,329.33 104.83,328.18 107.16,327.00 C109.88,325.62 112.59,317.68 115.31,317.68 C117.25,317.68 119.19,321.85 121.13,323.51 C122.68,324.83 124.24,327.00 125.79,327.00 C127.34,327.00 128.89,325.27 130.44,323.97 C131.30,323.26 132.15,321.65 133.00,321.18 C135.33,319.88 137.66,318.85 139.98,318.85 C141.54,318.85 143.09,320.40 144.64,321.18 C146.97,322.34 149.30,324.67 151.63,324.67 C153.80,324.67 155.97,321.64 158.15,321.64 C159.85,321.64 161.56,324.67 163.27,324.67 C166.37,324.67 169.48,318.85 172.58,318.85 C174.91,318.85 177.24,325.30 179.57,325.83 C182.67,326.55 185.77,327.00 188.88,327.00 C190.82,327.00 192.76,325.12 194.70,323.51 C197.03,321.57 199.36,313.73 201.68,313.73 C202.85,313.73 204.01,314.58 205.18,315.36 C206.73,316.39 208.28,321.18 209.83,321.18 C211.77,321.18 213.71,318.38 215.65,318.38 C217.59,318.38 219.53,327.83 221.47,329.33 C223.03,330.53 224.58,331.17 226.13,331.65 C227.68,332.14 229.24,332.70 230.79,332.70M250.11,332.70 C250.73,332.70 251.35,331.29 251.97,330.02 C252.36,329.23 252.75,327.46 253.13,326.30 C253.52,325.14 253.91,323.04 254.30,323.04 C254.69,323.04 255.07,325.14 255.46,326.30 C255.85,327.46 256.24,329.23 256.63,330.02 C257.25,331.29 257.87,332.70 258.49,332.70M269.43,332.70 C270.60,332.70 271.76,328.98 272.92,325.83 C274.09,322.68 275.25,310.70 276.42,310.70 C277.58,310.70 278.75,312.33 279.91,312.33 C281.46,312.33 283.01,309.86 284.57,308.37 C287.28,305.76 290.00,299.06 292.71,299.06 C293.88,299.06 295.04,303.02 296.21,303.02 C297.14,303.02 298.07,302.08 299.00,302.08 C299.78,302.08 300.55,305.34 301.33,305.34 C303.11,305.34 304.90,297.89 306.68,297.89 C307.85,297.89 309.01,305.64 310.18,307.21 C312.51,310.35 314.83,311.20 317.16,313.03 C318.71,314.25 320.27,315.36 321.82,316.52 C323.37,317.68 324.92,318.42 326.47,320.01 C327.64,321.20 328.80,325.37 329.97,325.37 C331.52,325.37 333.07,318.85 334.62,318.85 C335.79,318.85 336.95,322.76 338.12,323.04 C339.28,323.32 340.44,323.51 341.61,323.51 C342.07,323.51 342.54,323.51 343.00,323.51 C344.16,323.51 345.33,324.09 346.49,324.67 C347.81,325.32 349.13,328.63 350.45,328.63 C351.85,328.63 353.24,324.67 354.64,324.67 C355.42,324.67 356.19,325.37 356.97,325.37 C358.13,325.37 359.30,323.97 360.46,323.97 C362.40,323.97 364.34,327.83 366.28,328.16 C367.84,328.43 369.39,328.63 370.94,328.63 C372.49,328.63 374.04,327.00 375.60,327.00 C378.70,327.00 381.80,327.37 384.91,327.70 C388.01,328.02 391.12,329.33 394.22,329.33 C396.55,329.33 398.88,328.65 401.21,328.16 C403.92,327.59 406.64,325.83 409.36,325.83 C410.52,325.83 411.68,327.00 412.85,327.00 C415.18,327.00 417.51,326.30 419.83,326.30 C422.16,326.30 424.49,327.76 426.82,328.16 C429.92,328.70 433.03,329.33 436.13,329.33 C439.22,329.33 442.31,328.55 445.40,328.16" fill="none" stroke="#ff3838" stroke-width="1.1" stroke-linejoin="round"/>
<path d="M50.12,332.70 C50.89,332.70 51.67,330.49 52.45,330.49 C53.22,330.49 54.00,332.70 54.78,332.70M62.92,332.70 C64.09,332.70 65.25,331.07 66.42,330.49 C67.97,329.72 69.52,328.99 71.07,328.63 C73.01,328.18 74.95,328.14 76.89,327.70 C79.22,327.16 81.55,324.67 83.88,324.67 C85.04,324.67 86.21,326.30 87.37,326.30 C88.54,326.30 89.70,324.67 90.86,324.67 C92.42,324.67 93.97,328.71 95.52,329.33 C97.07,329.95 98.62,330.49 100.18,330.49 C102.51,330.49 104.83,329.60 107.16,328.63 C109.88,327.49 112.59,320.01 115.31,320.01 C117.25,320.01 119.19,323.83 121.13,325.37 C122.68,326.60 124.24,328.63 125.79,328.63 C127.34,328.63 128.89,326.86 130.44,325.83 C131.30,325.27 132.15,324.39 133.00,323.97 C134.55,323.21 136.10,322.34 137.66,322.34 C139.98,322.34 142.31,324.66 144.64,325.37 C146.97,326.07 149.30,327.00 151.63,327.00 C153.95,327.00 156.28,324.67 158.61,324.67 C160.55,324.67 162.49,325.83 164.43,325.83 C167.15,325.83 169.86,318.38 172.58,318.38 C174.91,318.38 177.24,322.31 179.57,323.04 C182.28,323.89 185.00,323.82 187.71,324.67 C190.04,325.40 192.37,329.33 194.70,329.33 C197.03,329.33 199.36,327.70 201.68,327.70 C204.40,327.70 207.12,328.91 209.83,329.33 C212.94,329.81 216.04,329.92 219.15,330.49 C221.47,330.92 223.80,332.70 226.13,332.70M251.97,332.70 C252.75,332.70 253.52,330.49 254.30,330.49 C255.07,330.49 255.85,332.70 256.63,332.70M268.27,332.70 C269.04,332.70 269.82,331.01 270.60,330.49 C272.54,329.19 274.48,327.70 276.42,327.70 C279.13,327.70 281.85,327.70 284.57,327.70 C287.05,327.70 289.53,325.37 292.02,325.37 C294.97,325.37 297.91,327.70 300.86,327.70 C303.19,327.70 305.52,327.00 307.85,327.00 C311.73,327.00 315.61,328.18 319.49,328.63 C321.82,328.90 324.15,329.33 326.47,329.33 C329.19,329.33 331.91,326.30 334.62,326.30 C336.95,326.30 339.28,329.33 341.61,329.33 C342.07,329.33 342.54,329.33 343.00,329.33 C345.48,329.33 347.97,330.96 350.45,330.96 C355.73,330.96 361.01,330.49 366.28,330.49 C374.04,330.49 381.80,330.96 389.57,330.96 C396.16,330.96 402.76,329.56 409.36,329.56 C415.18,329.56 421.00,330.49 426.82,330.49 C433.01,330.49 439.21,330.49 445.40,330.49" fill="none" stroke="#3535ff" stroke-width="1.1" stroke-linejoin="round"/>
<path d="M50.12,332.70 C50.89,332.70 51.67,329.56 52.45,329.56 C53.22,329.56 54.00,332.70 54.78,332.70" fill="none" stroke="#ffa22a" stroke-width="1.1" stroke-linejoin="round"/>
<line x1="28.60" y1="332.70" x2="47.56" y2="332.70" stroke="#6a4a5a" stroke-width="1.0"/>
<line x1="57.34" y1="332.70" x2="61.06" y2="332.70" stroke="#6a4a5a" stroke-width="1.0"/>
<line x1="228.46" y1="332.70" x2="249.18" y2="332.70" stroke="#6a4a5a" stroke-width="1.0"/>
<line x1="259.42" y1="332.70" x2="268.27" y2="332.70" stroke="#6a4a5a" stroke-width="1.0"/>
<line x1="28.4" y1="415.10" x2="446.2" y2="415.10" stroke="#2a7a2a" stroke-width="0.9"/>
<path d="M62.92,415.00 C63.55,415.00 64.17,413.22 64.79,411.33 C65.33,409.67 65.87,403.17 66.42,400.85 C67.58,395.87 68.75,390.37 69.91,390.37 C70.69,390.37 71.46,395.03 72.24,395.03 C73.94,395.03 75.65,376.40 77.36,376.40 C78.37,376.40 79.38,388.04 80.39,388.04 C81.55,388.04 82.71,375.24 83.88,375.24 C84.81,375.24 85.74,379.89 86.67,379.89 C88.07,379.89 89.47,369.42 90.86,369.42 C92.03,369.42 93.19,375.79 94.36,379.89 C95.37,383.45 96.37,392.70 97.38,392.70 C97.93,392.70 98.47,391.07 99.01,391.07 C100.02,391.07 101.03,400.85 102.04,400.85 C103.36,400.85 104.68,396.15 106.00,393.40 C106.77,391.78 107.55,390.47 108.33,388.04 C109.49,384.40 110.65,369.42 111.82,369.42 C112.98,369.42 114.15,379.89 115.31,379.89 C116.09,379.89 116.86,368.42 117.64,363.60 C118.65,357.33 119.66,346.83 120.67,346.83 C121.60,346.83 122.53,358.66 123.46,365.92 C124.24,371.98 125.01,382.58 125.79,386.88 C126.56,391.18 127.34,395.26 128.12,396.19 C129.28,397.59 130.44,398.52 131.61,398.52 C132.07,398.52 132.54,395.90 133.00,393.86 C133.78,390.45 134.55,382.58 135.33,377.57 C136.10,372.55 136.88,366.37 137.66,363.60 C138.59,360.27 139.52,356.61 140.45,356.61 C141.23,356.61 142.00,358.36 142.78,360.10 C143.55,361.85 144.33,367.09 145.11,370.58 C145.88,374.07 146.66,378.87 147.44,381.06 C148.83,385.00 150.23,389.21 151.63,389.21 C153.18,389.21 154.73,381.76 156.28,381.76 C157.45,381.76 158.61,389.21 159.78,389.21 C160.78,389.21 161.79,377.57 162.80,377.57 C164.12,377.57 165.44,397.36 166.76,397.36 C167.92,397.36 169.09,384.70 170.25,377.57 C171.42,370.43 172.58,354.28 173.75,354.28 C174.52,354.28 175.30,356.61 176.07,356.61 C176.85,356.61 177.63,355.45 178.40,355.45 C179.57,355.45 180.73,371.05 181.89,372.91 C182.67,374.15 183.45,374.06 184.22,375.24 C185.39,377.00 186.55,388.04 187.71,388.04 C189.27,388.04 190.82,379.89 192.37,379.89 C193.54,379.89 194.70,386.10 195.86,389.21 C197.03,392.31 198.19,398.52 199.36,398.52 C201.45,398.52 203.55,370.58 205.64,370.58 C206.65,370.58 207.66,379.89 208.67,379.89 C209.45,379.89 210.22,378.73 211.00,378.73 C212.01,378.73 213.02,386.68 214.02,390.37 C214.80,393.21 215.58,398.52 216.35,398.52 C217.67,398.52 218.99,391.07 220.31,391.07 C221.47,391.07 222.64,401.43 223.80,403.18 C224.58,404.34 225.36,404.40 226.13,405.51 C227.30,407.16 228.46,415.00 229.62,415.00M270.60,415.00 C271.37,415.00 272.15,412.83 272.92,411.33 C273.70,409.82 274.48,408.37 275.25,405.51 C276.18,402.06 277.12,391.26 278.05,384.55 C279.06,377.28 280.06,363.60 281.07,363.60 C282.63,363.60 284.18,382.22 285.73,382.22 C286.51,382.22 287.28,371.09 288.06,365.92 C289.07,359.21 290.08,346.83 291.08,346.83 C292.02,346.83 292.95,355.45 293.88,355.45 C294.89,355.45 295.90,344.97 296.91,344.97 C297.84,344.97 298.77,359.67 299.70,362.43 C300.71,365.42 301.72,366.93 302.73,368.25 C303.66,369.47 304.59,371.05 305.52,371.05 C306.68,371.05 307.85,365.46 309.01,365.46 C310.18,365.46 311.34,375.70 312.51,375.70 C313.67,375.70 314.83,374.77 316.00,374.77 C316.77,374.77 317.55,381.76 318.33,381.76 C319.33,381.76 320.34,377.57 321.35,377.57 C321.97,377.57 322.59,384.08 323.22,384.08 C324.30,384.08 325.39,382.22 326.47,382.22 C327.41,382.22 328.34,390.06 329.27,393.86 C330.28,397.98 331.29,405.97 332.30,405.97 C334.08,405.97 335.87,373.37 337.65,373.37 C338.58,373.37 339.51,382.64 340.44,383.39 C341.30,384.07 342.15,383.92 343.00,384.55 C344.16,385.41 345.33,389.38 346.49,392.70 C347.66,396.02 348.82,405.51 349.98,405.51 C350.76,405.51 351.54,402.59 352.31,402.01 C353.09,401.43 353.87,401.32 354.64,400.85 C355.81,400.14 356.97,398.05 358.13,398.05 C359.14,398.05 360.15,403.64 361.16,403.64 C362.09,403.64 363.02,394.21 363.95,393.86 C364.73,393.58 365.51,393.66 366.28,393.40 C367.06,393.14 367.84,391.91 368.61,391.07 C369.78,389.81 370.94,386.88 372.10,386.88 C373.42,386.88 374.74,400.85 376.06,400.85 C377.46,400.85 378.86,395.68 380.25,391.54 C381.42,388.08 382.58,376.40 383.75,376.40 C384.91,376.40 386.07,381.41 387.24,383.39 C388.01,384.70 388.79,386.88 389.57,386.88 C390.96,386.88 392.36,380.36 393.76,380.36 C394.84,380.36 395.93,386.41 397.02,386.41 C398.41,386.41 399.81,378.73 401.21,378.73 C402.37,378.73 403.54,380.99 404.70,382.69 C406.25,384.96 407.80,392.70 409.36,392.70 C410.13,392.70 410.91,382.97 411.68,377.57 C412.46,372.16 413.24,360.10 414.01,360.10 C414.79,360.10 415.56,362.43 416.34,362.43 C417.12,362.43 417.89,358.94 418.67,358.94 C419.45,358.94 420.22,366.65 421.00,368.25 C422.16,370.66 423.33,371.26 424.49,372.91 C425.27,374.01 426.04,376.40 426.82,376.40 C427.75,376.40 428.68,367.79 429.61,367.79 C431.16,367.79 432.72,386.41 434.27,386.41 C435.28,386.41 436.29,370.21 437.30,368.25 C438.30,366.30 439.31,365.31 440.32,364.76 C441.41,364.16 442.50,363.60 443.58,363.60 C444.19,363.60 444.79,376.01 445.40,382.22" fill="none" stroke="#252525" stroke-width="1.1" stroke-linejoin="round"/>
<path d="M64.79,415.00 C65.72,415.00 66.65,413.44 67.58,412.49 C68.43,411.62 69.29,409.46 70.14,409.46 C71.15,409.46 72.16,411.33 73.17,411.33 C74.41,411.33 75.65,405.97 76.89,405.97 C77.98,405.97 79.07,409.46 80.15,409.46 C81.24,409.46 82.33,405.74 83.41,405.27 C85.74,404.27 88.07,403.64 90.40,403.64 C92.65,403.64 94.90,408.47 97.15,409.70 C98.47,410.42 99.79,411.33 101.11,411.33 C102.43,411.33 103.75,410.70 105.07,410.16 C107.39,409.21 109.72,404.81 112.05,404.81 C112.83,404.81 113.60,406.67 114.38,406.67 C116.40,406.67 118.42,398.75 120.43,398.75 C122.30,398.75 124.16,409.12 126.02,409.70 C127.88,410.27 129.75,410.63 131.61,410.63 C132.07,410.63 132.54,408.50 133.00,407.83 C135.48,404.24 137.97,400.38 140.45,400.38 C142.62,400.38 144.80,404.64 146.97,405.04 C150.07,405.61 153.18,405.39 156.28,405.97 C157.45,406.19 158.61,407.83 159.78,407.83 C160.78,407.83 161.79,404.34 162.80,404.34 C163.73,404.34 164.66,409.00 165.60,409.00 C168.31,409.00 171.03,400.85 173.75,400.85 C175.69,400.85 177.63,403.80 179.57,405.04 C181.89,406.52 184.22,408.40 186.55,409.00 C188.88,409.60 191.21,410.16 193.54,410.16 C195.09,410.16 196.64,409.65 198.19,409.00 C200.68,407.95 203.16,392.70 205.64,392.70 C206.65,392.70 207.66,398.05 208.67,398.05 C209.45,398.05 210.22,396.19 211.00,396.19 C212.32,396.19 213.64,402.71 214.96,402.71 C216.74,402.71 218.53,400.85 220.31,400.85 C221.47,400.85 222.64,405.86 223.80,407.83 C224.58,409.15 225.36,410.35 226.13,411.33 C227.30,412.78 228.46,415.00 229.62,415.00M271.76,415.00 C272.30,415.00 272.85,413.57 273.39,412.49 C274.40,410.49 275.41,406.85 276.42,403.18 C276.96,401.20 277.50,398.03 278.05,396.19 C279.06,392.78 280.06,388.04 281.07,388.04 C282.24,388.04 283.40,398.52 284.57,398.52 C285.50,398.52 286.43,392.67 287.36,389.21 C288.37,385.45 289.38,376.40 290.39,376.40 C291.40,376.40 292.40,384.08 293.41,384.08 C294.50,384.08 295.59,375.24 296.67,375.24 C297.91,375.24 299.16,385.71 300.40,385.71 C301.33,385.71 302.26,383.39 303.19,383.39 C303.97,383.39 304.74,389.21 305.52,389.21 C306.68,389.21 307.85,382.69 309.01,382.69 C310.18,382.69 311.34,390.51 312.51,391.54 C313.67,392.56 314.83,392.52 316.00,393.40 C316.77,393.99 317.55,395.77 318.33,396.19 C319.49,396.82 320.65,396.90 321.82,397.36 C322.98,397.81 324.15,398.29 325.31,398.99 C326.09,399.45 326.86,400.00 327.64,400.85 C329.19,402.54 330.74,410.16 332.30,410.16 C334.08,410.16 335.87,395.03 337.65,395.03 C338.58,395.03 339.51,400.08 340.44,400.38 C341.30,400.66 342.15,400.59 343.00,400.85 C344.55,401.32 346.10,409.00 347.66,409.00 C349.21,409.00 350.76,407.83 352.31,407.83 C354.25,407.83 356.19,407.99 358.13,408.30 C359.30,408.48 360.46,411.33 361.63,411.33 C364.73,411.33 367.84,410.16 370.94,410.16 C372.88,410.16 374.82,412.96 376.76,412.96 C379.09,412.96 381.42,409.00 383.75,409.00 C386.46,409.00 389.18,409.65 391.89,410.16 C394.22,410.60 396.55,412.02 398.88,412.02 C401.21,412.02 403.54,410.76 405.86,410.16 C408.97,409.36 412.07,407.83 415.18,407.83 C416.73,407.83 418.28,409.00 419.83,409.00 C422.94,409.00 426.04,407.83 429.15,407.83 C430.70,407.83 432.25,412.96 433.80,412.96 C435.36,412.96 436.91,411.33 438.46,411.33 C440.77,411.33 443.09,411.79 445.40,412.02" fill="none" stroke="#ff3838" stroke-width="1.1" stroke-linejoin="round"/>
<path d="M65.25,415.00 C65.87,415.00 66.49,413.92 67.12,413.42 C68.12,412.60 69.13,411.09 70.14,411.09 C71.15,411.09 72.16,412.26 73.17,412.26 C74.41,412.26 75.65,409.70 76.89,409.70 C77.98,409.70 79.07,411.33 80.15,411.33 C81.24,411.33 82.33,409.36 83.41,409.00 C85.74,408.22 88.07,407.60 90.40,407.60 C92.65,407.60 94.90,409.66 97.15,410.63 C98.47,411.19 99.79,412.26 101.11,412.26 C102.43,412.26 103.75,412.04 105.07,411.79 C107.39,411.35 109.72,406.90 112.05,406.90 C112.83,406.90 113.60,408.30 114.38,408.30 C116.40,408.30 118.42,401.31 120.43,401.31 C122.30,401.31 124.16,410.66 126.02,411.09 C127.88,411.53 129.75,411.79 131.61,411.79 C132.07,411.79 132.54,409.58 133.00,409.00 C135.48,405.89 137.97,403.18 140.45,403.18 C142.62,403.18 144.80,406.21 146.97,406.67 C150.07,407.32 153.18,407.30 156.28,407.83 C157.84,408.10 159.39,408.65 160.94,409.00 C162.88,409.43 164.82,410.16 166.76,410.16 C169.48,410.16 172.19,400.38 174.91,400.38 C176.46,400.38 178.01,400.57 179.57,400.85 C181.12,401.13 182.67,404.47 184.22,405.51 C185.77,406.54 187.33,407.83 188.88,407.83 C190.28,407.83 191.67,405.51 193.07,405.51 C194.78,405.51 196.48,411.33 198.19,411.33 C200.52,411.33 202.85,410.16 205.18,410.16 C208.28,410.16 211.39,411.93 214.49,412.49 C218.37,413.19 222.25,413.48 226.13,414.12 C227.68,414.38 229.24,415.00 230.79,415.00M272.92,415.00 C273.70,415.00 274.48,412.97 275.25,412.49 C277.19,411.28 279.13,410.16 281.07,410.16 C283.01,410.16 284.95,410.63 286.89,410.63 C290.00,410.63 293.10,406.67 296.21,406.67 C298.54,406.67 300.86,410.36 303.19,410.63 C307.07,411.08 310.95,411.33 314.83,411.33 C318.71,411.33 322.59,410.63 326.47,410.63 C328.42,410.63 330.36,413.65 332.30,413.65 C334.08,413.65 335.87,407.83 337.65,407.83 C338.97,407.83 340.29,409.19 341.61,409.70 C342.07,409.87 342.54,409.97 343.00,410.16 C344.55,410.80 346.10,412.96 347.66,412.96 C350.76,412.96 353.87,412.96 356.97,412.96 C363.57,412.96 370.16,413.89 376.76,413.89 C379.09,413.89 381.42,412.49 383.75,412.49 C393.45,412.49 403.15,412.49 412.85,412.49 C418.28,412.49 423.71,411.33 429.15,411.33 C430.70,411.33 432.25,413.89 433.80,413.89 C437.67,413.89 441.53,413.58 445.40,413.42" fill="none" stroke="#3535ff" stroke-width="1.1" stroke-linejoin="round"/>
<path d="M64.79,415.00 C66.57,415.00 68.36,414.19 70.14,413.65 C72.39,412.98 74.64,411.09 76.89,411.09 C77.98,411.09 79.07,412.96 80.15,412.96 C81.24,412.96 82.33,412.26 83.41,412.26 C84.42,412.26 85.43,412.38 86.44,412.49 C87.76,412.63 89.08,413.05 90.40,413.19 C92.65,413.42 94.90,413.65 97.15,413.65 C99.71,413.65 102.27,413.55 104.83,413.42 C107.24,413.30 109.65,412.49 112.05,412.49 C112.90,412.49 113.76,413.50 114.61,413.65 C119.73,414.55 124.86,415.00 129.98,415.00M156.28,415.00 C160.94,415.00 165.60,413.65 170.25,413.65 C171.80,413.65 173.36,415.00 174.91,415.00" fill="none" stroke="#1f9a1f" stroke-width="1.0" stroke-linejoin="round"/>
<line x1="28.60" y1="415.00" x2="62.92" y2="415.00" stroke="#8a6a8a" stroke-width="1.0"/>
<line x1="229.62" y1="415.00" x2="270.60" y2="415.00" stroke="#8a6a8a" stroke-width="1.0"/>
<line x1="28.4" y1="496.80" x2="446.2" y2="496.80" stroke="#c0a070" stroke-width="0.9"/>
<path d="M62.92,496.70 C63.55,496.70 64.17,494.90 64.79,493.33 C65.56,491.35 66.34,486.21 67.12,482.85 C68.05,478.81 68.98,471.21 69.91,471.21 C70.69,471.21 71.46,482.85 72.24,482.85 C73.63,482.85 75.03,458.40 76.43,458.40 C77.67,458.40 78.91,475.40 80.15,475.40 C81.40,475.40 82.64,458.40 83.88,458.40 C84.66,458.40 85.43,459.57 86.21,459.57 C87.60,459.57 89.00,453.05 90.40,453.05 C91.33,453.05 92.26,461.13 93.19,464.22 C94.36,468.08 95.52,474.00 96.68,474.00 C97.46,474.00 98.24,473.07 99.01,473.07 C100.02,473.07 101.03,482.85 102.04,482.85 C102.97,482.85 103.90,476.60 104.83,474.00 C106.00,470.76 107.16,468.30 108.33,465.39 C109.33,462.86 110.34,457.70 111.35,457.70 C112.28,457.70 113.22,463.06 114.15,463.06 C114.92,463.06 115.70,444.98 116.47,438.61 C117.41,430.96 118.34,419.98 119.27,419.98 C120.28,419.98 121.29,430.17 122.30,438.61 C123.07,445.11 123.85,463.01 124.62,467.71 C125.40,472.42 126.18,475.15 126.95,477.03 C128.12,479.84 129.28,482.85 130.44,482.85 C131.30,482.85 132.15,479.24 133.00,475.86 C133.78,472.79 134.55,464.58 135.33,459.57 C136.10,454.55 136.88,448.50 137.66,445.60 C138.59,442.12 139.52,438.15 140.45,438.15 C141.23,438.15 142.00,439.87 142.78,441.64 C143.55,443.40 144.33,448.89 145.11,452.58 C145.88,456.27 146.66,461.56 147.44,463.76 C148.83,467.71 150.23,471.67 151.63,471.67 C153.18,471.67 154.73,463.76 156.28,463.76 C157.45,463.76 158.61,471.21 159.78,471.21 C160.78,471.21 161.79,460.03 162.80,460.03 C164.12,460.03 165.44,479.36 166.76,479.36 C167.92,479.36 169.09,466.63 170.25,459.57 C171.42,452.50 172.58,436.75 173.75,436.75 C174.52,436.75 175.30,439.08 176.07,439.08 C176.85,439.08 177.63,438.15 178.40,438.15 C179.57,438.15 180.73,452.76 181.89,454.91 C182.67,456.34 183.45,456.36 184.22,457.70 C185.39,459.72 186.55,470.04 187.71,470.04 C189.27,470.04 190.82,462.36 192.37,462.36 C193.54,462.36 194.70,468.18 195.86,471.21 C197.03,474.23 198.19,480.52 199.36,480.52 C201.30,480.52 203.24,453.05 205.18,453.05 C206.34,453.05 207.51,461.89 208.67,461.89 C209.45,461.89 210.22,460.73 211.00,460.73 C212.01,460.73 213.02,468.57 214.02,472.37 C214.80,475.30 215.58,480.99 216.35,480.99 C217.67,480.99 218.99,473.07 220.31,473.07 C221.47,473.07 222.64,485.03 223.80,486.34 C224.58,487.22 225.36,487.15 226.13,487.97 C227.30,489.20 228.46,496.70 229.62,496.70M270.60,496.70 C271.37,496.70 272.15,494.75 272.92,493.33 C273.70,491.90 274.48,490.37 275.25,487.51 C276.18,484.06 277.12,473.76 278.05,466.55 C278.90,459.94 279.75,446.06 280.61,446.06 C282.32,446.06 284.02,465.39 285.73,465.39 C286.51,465.39 287.28,453.93 288.06,447.92 C288.83,441.92 289.61,429.30 290.39,429.30 C291.40,429.30 292.40,438.15 293.41,438.15 C294.34,438.15 295.28,425.81 296.21,425.81 C297.37,425.81 298.54,441.18 299.70,444.43 C300.71,447.25 301.72,448.93 302.73,450.25 C303.66,451.47 304.59,453.05 305.52,453.05 C306.68,453.05 307.85,447.46 309.01,447.46 C310.18,447.46 311.34,457.70 312.51,457.70 C313.67,457.70 314.83,456.77 316.00,456.77 C316.77,456.77 317.55,463.76 318.33,463.76 C319.33,463.76 320.34,459.57 321.35,459.57 C321.97,459.57 322.59,466.08 323.22,466.08 C324.30,466.08 325.39,464.22 326.47,464.22 C327.41,464.22 328.34,472.06 329.27,475.86 C330.28,479.98 331.29,487.97 332.30,487.97 C333.85,487.97 335.40,455.37 336.95,455.37 C338.12,455.37 339.28,463.82 340.44,465.39 C341.30,466.53 342.15,466.62 343.00,467.71 C344.16,469.21 345.33,472.46 346.49,475.86 C347.50,478.81 348.51,487.51 349.52,487.51 C350.45,487.51 351.38,485.01 352.31,484.01 C354.02,482.19 355.73,479.36 357.44,479.36 C358.68,479.36 359.92,486.34 361.16,486.34 C362.09,486.34 363.02,475.21 363.95,474.70 C364.73,474.28 365.51,474.39 366.28,474.00 C366.90,473.69 367.52,472.37 368.15,471.67 C369.23,470.45 370.32,468.41 371.41,468.41 C372.80,468.41 374.20,482.85 375.60,482.85 C376.99,482.85 378.39,471.52 379.79,468.88 C380.33,467.85 380.87,466.55 381.42,466.55 C382.19,466.55 382.97,468.88 383.75,468.88 C385.53,468.88 387.32,457.70 389.10,457.70 C390.19,457.70 391.27,467.71 392.36,467.71 C393.76,467.71 395.15,456.77 396.55,456.77 C398.10,456.77 399.66,472.37 401.21,472.37 C402.76,472.37 404.31,460.79 405.86,459.57 C406.64,458.96 407.42,458.79 408.19,458.40 C408.97,458.01 409.74,457.84 410.52,457.24 C411.92,456.15 413.31,447.46 414.71,447.46 C416.26,447.46 417.82,454.91 419.37,454.91 C420.69,454.91 422.01,439.08 423.33,439.08 C424.49,439.08 425.65,449.72 426.82,453.75 C427.59,456.43 428.37,460.73 429.15,460.73 C429.92,460.73 430.70,454.44 431.47,454.44 C433.03,454.44 434.58,463.06 436.13,463.06 C438.07,463.06 440.01,443.27 441.95,443.27 C443.10,443.27 444.25,455.69 445.40,461.89" fill="none" stroke="#252525" stroke-width="1.1" stroke-linejoin="round"/>
<path d="M62.92,496.70 C64.01,496.70 65.10,495.16 66.18,494.26 C67.19,493.42 68.20,491.46 69.21,491.46 C69.99,491.46 70.76,493.09 71.54,493.09 C72.86,493.09 74.18,487.97 75.50,487.97 C76.51,487.97 77.51,490.30 78.52,490.30 C80.08,490.30 81.63,487.75 83.18,487.27 C85.59,486.53 87.99,485.88 90.40,485.88 C91.41,485.88 92.42,489.68 93.42,490.30 C94.67,491.06 95.91,491.11 97.15,491.70 C98.47,492.32 99.79,494.26 101.11,494.26 C102.43,494.26 103.75,493.22 105.07,492.63 C106.62,491.93 108.17,491.11 109.72,490.30 C110.73,489.77 111.74,489.17 112.75,488.67 C113.76,488.17 114.77,487.98 115.78,487.27 C117.10,486.34 118.42,480.75 119.73,480.75 C120.98,480.75 122.22,486.20 123.46,487.97 C124.55,489.52 125.63,491.24 126.72,491.70 C127.96,492.21 129.20,492.63 130.44,492.63 C131.30,492.63 132.15,490.92 133.00,490.07 C135.48,487.58 137.97,482.62 140.45,482.62 C142.62,482.62 144.80,486.87 146.97,487.27 C150.07,487.84 153.18,487.62 156.28,488.20 C157.45,488.42 158.61,490.07 159.78,490.07 C160.78,490.07 161.79,486.57 162.80,486.57 C163.73,486.57 164.66,491.23 165.60,491.23 C168.31,491.23 171.03,483.08 173.75,483.08 C175.69,483.08 177.63,486.04 179.57,487.27 C181.89,488.75 184.22,490.63 186.55,491.23 C188.88,491.83 191.21,492.39 193.54,492.39 C195.09,492.39 196.64,491.89 198.19,491.23 C200.68,490.18 203.16,474.93 205.64,474.93 C206.65,474.93 207.66,480.29 208.67,480.29 C209.45,480.29 210.22,478.42 211.00,478.42 C212.32,478.42 213.64,484.94 214.96,484.94 C216.74,484.94 218.53,483.08 220.31,483.08 C221.47,483.08 222.64,488.09 223.80,490.07 C224.58,491.38 225.36,492.67 226.13,493.56 C227.30,494.89 228.46,496.70 229.62,496.70M271.76,496.70 C272.30,496.70 272.85,495.63 273.39,494.72 C274.40,493.04 275.41,489.08 276.42,485.41 C276.96,483.43 277.50,480.26 278.05,478.42 C279.06,475.01 280.06,470.28 281.07,470.28 C282.24,470.28 283.40,480.75 284.57,480.75 C285.50,480.75 286.43,474.91 287.36,471.44 C288.37,467.68 289.38,458.63 290.39,458.63 C291.40,458.63 292.40,466.32 293.41,466.32 C294.50,466.32 295.59,457.47 296.67,457.47 C297.91,457.47 299.16,467.95 300.40,467.95 C301.33,467.95 302.26,465.62 303.19,465.62 C303.97,465.62 304.74,471.44 305.52,471.44 C306.68,471.44 307.85,464.92 309.01,464.92 C310.18,464.92 311.34,472.74 312.51,473.77 C313.67,474.79 314.83,474.75 316.00,475.63 C316.77,476.22 317.55,478.00 318.33,478.42 C319.49,479.06 320.65,479.14 321.82,479.59 C322.98,480.04 324.15,480.52 325.31,481.22 C326.09,481.68 326.86,482.23 327.64,483.08 C329.19,484.77 330.74,492.39 332.30,492.39 C334.08,492.39 335.87,477.26 337.65,477.26 C338.58,477.26 339.51,482.46 340.44,482.62 C341.30,482.76 342.15,482.71 343.00,482.85 C344.55,483.09 346.10,489.17 347.66,489.83 C349.21,490.50 350.76,491.00 352.31,491.00 C353.87,491.00 355.42,490.30 356.97,490.30 C358.52,490.30 360.07,494.02 361.63,494.02 C363.18,494.02 364.73,492.16 366.28,492.16 C368.22,492.16 370.16,492.16 372.10,492.16 C373.66,492.16 375.21,495.65 376.76,495.65 C379.09,495.65 381.42,492.16 383.75,492.16 C385.69,492.16 387.63,493.02 389.57,493.33 C392.67,493.81 395.77,494.49 398.88,494.49 C401.21,494.49 403.54,492.83 405.86,492.63 C408.97,492.36 412.07,492.44 415.18,492.16 C417.89,491.92 420.61,489.37 423.33,489.37 C425.27,489.37 427.21,491.21 429.15,492.16 C430.70,492.92 432.25,494.49 433.80,494.49 C436.13,494.49 438.46,493.33 440.79,493.33 C442.33,493.33 443.86,494.10 445.40,494.49" fill="none" stroke="#ff3838" stroke-width="1.1" stroke-linejoin="round"/>
<path d="M63.39,496.70 C64.32,496.70 65.25,495.53 66.18,494.96 C67.19,494.33 68.20,493.44 69.21,493.09 C71.31,492.37 73.40,491.70 75.50,491.70 C76.51,491.70 77.51,493.79 78.52,493.79 C80.08,493.79 81.63,492.17 83.18,491.70 C85.59,490.95 87.99,490.07 90.40,490.07 C91.41,490.07 92.42,492.40 93.42,492.63 C94.67,492.91 95.91,492.85 97.15,493.09 C98.47,493.35 99.79,494.96 101.11,494.96 C102.43,494.96 103.75,494.60 105.07,494.26 C106.62,493.85 108.17,492.39 109.72,491.70 C110.73,491.25 111.74,491.05 112.75,490.53 C115.08,489.33 117.41,484.01 119.73,484.01 C120.98,484.01 122.22,490.49 123.46,491.70 C124.55,492.75 125.63,493.79 126.72,493.79 C127.96,493.79 129.20,493.79 130.44,493.79 C131.30,493.79 132.15,491.99 133.00,491.23 C135.48,489.00 137.97,485.41 140.45,485.41 C142.62,485.41 144.80,488.45 146.97,488.90 C150.07,489.56 153.18,489.53 156.28,490.07 C157.84,490.34 159.39,490.88 160.94,491.23 C162.88,491.66 164.82,492.39 166.76,492.39 C169.48,492.39 172.19,482.62 174.91,482.62 C176.46,482.62 178.01,482.80 179.57,483.08 C181.12,483.36 182.67,486.70 184.22,487.74 C185.77,488.77 187.33,490.07 188.88,490.07 C190.28,490.07 191.67,487.74 193.07,487.74 C194.78,487.74 196.48,493.56 198.19,493.56 C200.52,493.56 202.85,492.39 205.18,492.39 C208.28,492.39 211.39,494.09 214.49,494.72 C218.37,495.51 222.25,496.70 226.13,496.70M272.92,496.70 C273.70,496.70 274.48,495.17 275.25,494.72 C277.19,493.61 279.13,492.39 281.07,492.39 C283.01,492.39 284.95,492.86 286.89,492.86 C290.00,492.86 293.10,488.90 296.21,488.90 C298.54,488.90 300.86,492.59 303.19,492.86 C307.07,493.31 310.95,493.56 314.83,493.56 C318.71,493.56 322.59,492.86 326.47,492.86 C328.42,492.86 330.36,495.89 332.30,495.89 C334.08,495.89 335.87,490.07 337.65,490.07 C338.97,490.07 340.29,491.63 341.61,491.93 C342.07,492.04 342.54,492.05 343.00,492.16 C344.55,492.53 346.10,494.80 347.66,494.96 C350.76,495.27 353.87,495.25 356.97,495.42 C363.57,495.79 370.16,496.70 376.76,496.70 C388.79,496.70 400.82,496.27 412.85,495.65 C416.34,495.47 419.83,494.49 423.33,494.49 C426.82,494.49 430.31,496.70 433.80,496.70 C437.67,496.70 441.53,496.16 445.40,495.89" fill="none" stroke="#3535ff" stroke-width="1.1" stroke-linejoin="round"/>
<path d="M62.92,496.70 C65.02,496.70 67.12,496.17 69.21,495.65 C71.31,495.14 73.40,492.63 75.50,492.63 C76.51,492.63 77.51,494.96 78.52,494.96 C80.08,494.96 81.63,494.26 83.18,494.26 C85.28,494.26 87.37,495.30 89.47,495.65 C92.03,496.09 94.59,496.70 97.15,496.70 C100.33,496.70 103.51,495.65 106.70,495.65 C109.26,495.65 111.82,495.65 114.38,495.65 C115.93,495.65 117.48,496.70 119.04,496.70M156.28,496.70 C160.94,496.70 165.60,495.89 170.25,495.89 C171.80,495.89 173.36,496.70 174.91,496.70" fill="none" stroke="#1f9a1f" stroke-width="1.0" stroke-linejoin="round"/>
<path d="M112.98,496.70 C113.91,496.70 114.85,495.53 115.78,494.49 C116.55,493.63 117.33,490.30 118.10,490.30 C118.88,490.30 119.66,493.63 120.43,494.49 C121.36,495.53 122.30,496.70 123.23,496.70" fill="none" stroke="#ffa22a" stroke-width="1.1" stroke-linejoin="round"/>
<line x1="28.60" y1="496.70" x2="62.92" y2="496.70" stroke="#b08890" stroke-width="1.0"/>
<line x1="229.62" y1="496.70" x2="270.60" y2="496.70" stroke="#b08890" stroke-width="1.0"/>
<line x1="28.4" y1="85.40" x2="446.2" y2="85.40" stroke="#1e1e1e" stroke-width="1.35"/>
<path d="M28.4,497.00V3.4H446.2V497.00" fill="none" stroke="#7a7a7a" stroke-width="1.3"/>
<line x1="27.75" y1="497.3" x2="446.84999999999997" y2="497.3" stroke="#6a5a5a" stroke-width="1.0"/>
<path d="M40.4,3.4V9.7M40.4,85.3V79.0M40.4,85.3V91.6M40.4,167.7V161.4M40.4,167.7V174.0M40.4,250.0V243.7M40.4,250.0V256.3M40.4,332.3V326.0M40.4,332.3V338.6M40.4,414.6V408.3M40.4,414.6V420.9M40.4,497.0V490.7M89.6,3.4V9.7M89.6,85.3V79.0M89.6,85.3V91.6M89.6,167.7V161.4M89.6,167.7V174.0M89.6,250.0V243.7M89.6,250.0V256.3M89.6,332.3V326.0M89.6,332.3V338.6M89.6,414.6V408.3M89.6,414.6V420.9M89.6,497.0V490.7M138.8,3.4V9.7M138.8,85.3V79.0M138.8,85.3V91.6M138.8,167.7V161.4M138.8,167.7V174.0M138.8,250.0V243.7M138.8,250.0V256.3M138.8,332.3V326.0M138.8,332.3V338.6M138.8,414.6V408.3M138.8,414.6V420.9M138.8,497.0V490.7M188.0,3.4V9.7M188.0,85.3V79.0M188.0,85.3V91.6M188.0,167.7V161.4M188.0,167.7V174.0M188.0,250.0V243.7M188.0,250.0V256.3M188.0,332.3V326.0M188.0,332.3V338.6M188.0,414.6V408.3M188.0,414.6V420.9M188.0,497.0V490.7M237.2,3.4V9.7M237.2,85.3V79.0M237.2,85.3V91.6M237.2,167.7V161.4M237.2,167.7V174.0M237.2,250.0V243.7M237.2,250.0V256.3M237.2,332.3V326.0M237.2,332.3V338.6M237.2,414.6V408.3M237.2,414.6V420.9M237.2,497.0V490.7M286.4,3.4V9.7M286.4,85.3V79.0M286.4,85.3V91.6M286.4,167.7V161.4M286.4,167.7V174.0M286.4,250.0V243.7M286.4,250.0V256.3M286.4,332.3V326.0M286.4,332.3V338.6M286.4,414.6V408.3M286.4,414.6V420.9M286.4,497.0V490.7M335.6,3.4V9.7M335.6,85.3V79.0M335.6,85.3V91.6M335.6,167.7V161.4M335.6,167.7V174.0M335.6,250.0V243.7M335.6,250.0V256.3M335.6,332.3V326.0M335.6,332.3V338.6M335.6,414.6V408.3M335.6,414.6V420.9M335.6,497.0V490.7M384.8,3.4V9.7M384.8,85.3V79.0M384.8,85.3V91.6M384.8,167.7V161.4M384.8,167.7V174.0M384.8,250.0V243.7M384.8,250.0V256.3M384.8,332.3V326.0M384.8,332.3V338.6M384.8,414.6V408.3M384.8,414.6V420.9M384.8,497.0V490.7M434.0,3.4V9.7M434.0,85.3V79.0M434.0,85.3V91.6M434.0,167.7V161.4M434.0,167.7V174.0M434.0,250.0V243.7M434.0,250.0V256.3M434.0,332.3V326.0M434.0,332.3V338.6M434.0,414.6V408.3M434.0,414.6V420.9M434.0,497.0V490.7" stroke="#666" stroke-width="1.1" fill="none"/>
<g font-family="Liberation Serif, serif" font-size="14.7" fill="#1a1a1a" stroke="#1a1a1a" stroke-width="0.25"><text x="42.8" y="519.5" text-anchor="middle">8</text><text x="92.0" y="519.5" text-anchor="middle">6</text><text x="141.2" y="519.5" text-anchor="middle">4</text><text x="190.4" y="519.5" text-anchor="middle">2</text><text x="237.2" y="519.5" text-anchor="middle">0</text><text x="286.4" y="519.5" text-anchor="middle">2</text><text x="335.6" y="519.5" text-anchor="middle">4</text><text x="384.8" y="519.5" text-anchor="middle">6</text><text x="434.0" y="519.5" text-anchor="middle">8</text><rect x="28.6" y="514.4" width="8.7" height="1.3"/><rect x="77.8" y="514.4" width="8.7" height="1.3"/><rect x="127.0" y="514.4" width="8.7" height="1.3"/><rect x="176.2" y="514.4" width="8.7" height="1.3"/></g>
<text x="237.4" y="543.8" text-anchor="middle" font-family="Liberation Serif, serif" font-size="14.4" fill="#1a1a1a" stroke="#1a1a1a" stroke-width="0.25">Energy (eV)</text>
<text transform="translate(14.4,256.8) rotate(-90)" text-anchor="middle" font-family="Liberation Serif, serif" font-size="14.0" fill="#1a1a1a" stroke="#1a1a1a" stroke-width="0.25">DOS (1/eV)</text>
<g font-family="Liberation Serif, serif" font-weight="bold" font-size="12.8" fill="#111" stroke="#111" stroke-width="0.3"><text transform="translate(32.3,24.3) scale(0.975,1)">(a) Pristine WS<tspan font-size="8.5" dy="2.5">2</tspan></text><text transform="translate(32.3,107.9) scale(0.975,1)">(b) H<tspan font-size="8.5" dy="2.5">2</tspan><tspan dy="-2.5">/WS</tspan><tspan font-size="8.5" dy="2.5">2</tspan></text><text transform="translate(32.3,190.9) scale(0.975,1)">(c) S-vacancy</text><text transform="translate(32.3,270.3) scale(0.975,1)">(d) H<tspan font-size="8.5" dy="2.5">2</tspan><tspan dy="-2.5">/S vacancy</tspan></text><text transform="translate(32.3,353.5) scale(0.975,1)">(e) O-S sub-</text><text transform="translate(32.3,367.1) scale(0.975,1)">stitution</text><text transform="translate(32.3,435.2) scale(0.975,1)">(f) H<tspan font-size="8.5" dy="2.5">2</tspan><tspan dy="-2.5">/O-S sub-</tspan></text><text transform="translate(32.3,449.4) scale(0.975,1)">stitution</text></g>
<path d="M49.6,294.5 H55.4 V305.1 H58.1 L52.4,311.2 L46.7,305.1 H49.6 Z" fill="#4010ff"/>
<line x1="258.44" y1="269.76" x2="255.16" y2="299.64" stroke="#f0184c" stroke-width="2.4"/>
<polygon points="259.20,262.80 255.06,269.39 261.82,270.13" fill="#f0184c"/>
<polygon points="254.40,306.60 251.78,299.27 258.54,300.01" fill="#f0184c"/>
</svg>
</body></html>
